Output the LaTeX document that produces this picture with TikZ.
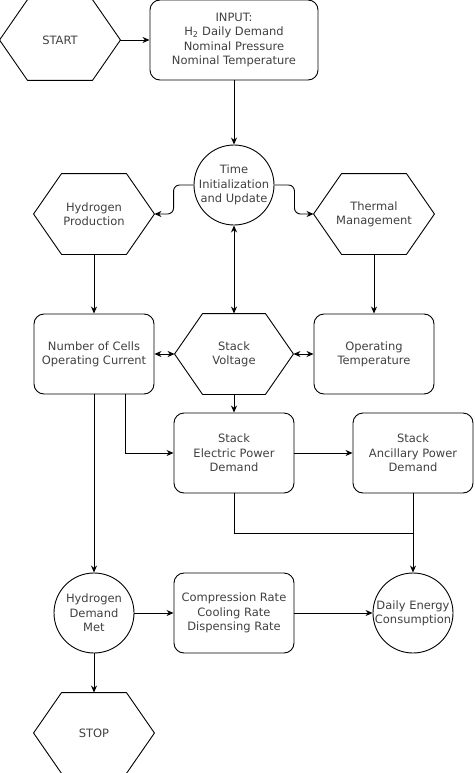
\documentclass[tikz,border=0pt]{standalone}
\usepackage{fontspec}
\setmainfont{DejaVu Sans}
\usetikzlibrary{arrows.meta}

\begin{document}
\begin{tikzpicture}[x=1pt,y=1pt, line width=0.9pt, >={Stealth[length=7pt,width=6pt]},
  font=\fontsize{11.5pt}{14.3pt}\selectfont, text=black!75,
  box/.style={draw, rounded corners=10pt, align=center, minimum width=120pt, minimum height=80pt},
  hexbox/.style={align=center, minimum width=120pt, minimum height=80pt,
    append after command={\pgfextra{\draw[line join=round]
      (\tikzlastnode.west) -- ([xshift=28pt]\tikzlastnode.north west)
      -- ([xshift=-28pt]\tikzlastnode.north east) -- (\tikzlastnode.east)
      -- ([xshift=-28pt]\tikzlastnode.south east)
      -- ([xshift=28pt]\tikzlastnode.south west) -- cycle;}}},
  circ/.style={draw, circle, minimum size=80pt, inner sep=0pt}]
\useasboundingbox (0,0) rectangle (474,-773);
\node[hexbox] (start) at (60,-40) {START};
\node[box, minimum width=168pt] (input) at (234,-40) {INPUT:\\H\textsubscript{2} Daily Demand\\Nominal Pressure\\Nominal Temperature};
\node[circ, label={[align=center]center:Time\\Initialization\\and Update}] (time) at (234,-185) {};
\node[hexbox] (hprod) at (94,-214) {Hydrogen\\Production};
\node[hexbox] (thermal) at (374,-214) {Thermal\\Management};
\node[box] (cells) at (94,-354) {Number of Cells\\Operating Current};
\node[hexbox, minimum width=118pt] (voltage) at (234,-354) {Stack\\Voltage};
\node[box] (optemp) at (374,-354) {Operating\\Temperature};
\node[box] (elecpower) at (234,-453) {Stack\\Electric Power\\Demand};
\node[box] (ancpower) at (413,-453) {Stack\\Ancillary Power\\Demand};
\node[circ, label={[align=center]center:Hydrogen\\Demand\\Met}] (demandmet) at (94,-613) {};
\node[box] (rates) at (234,-613) {Compression Rate\\Cooling Rate\\Dispensing Rate};
\node[circ, label={[align=center]center:Daily Energy\\Consumption}] (energy) at (413,-613) {};
\node[hexbox] (stop) at (94,-733) {STOP};
\draw[->] (start) -- (input);
\draw[->] (input) -- (time);
\draw[->, rounded corners=6pt] (time.west) -- ++(-20,0) |- (hprod.east);
\draw[->, rounded corners=6pt] (time.east) -- ++(20,0) |- (thermal.west);
\draw[<->] (time) -- (voltage);
\draw[->] (hprod) -- (cells);
\draw[->] (thermal) -- (optemp);
\draw[<->] (cells) -- (voltage);
\draw[<->] (voltage) -- (optemp);
\draw[->] (voltage) -- (elecpower);
\draw[->] (elecpower) -- (ancpower);
\draw[->] ([xshift=31pt]cells.south) |- (elecpower.west);
\draw[->] (cells) -- (demandmet);
\draw (elecpower.south) |- ([yshift=-40pt]ancpower.south);
\draw[->] (ancpower) -- (energy);
\draw[->] (demandmet) -- (rates);
\draw[->] (rates) -- (energy);
\draw[->] (demandmet) -- (stop);
\end{tikzpicture}
\end{document}
